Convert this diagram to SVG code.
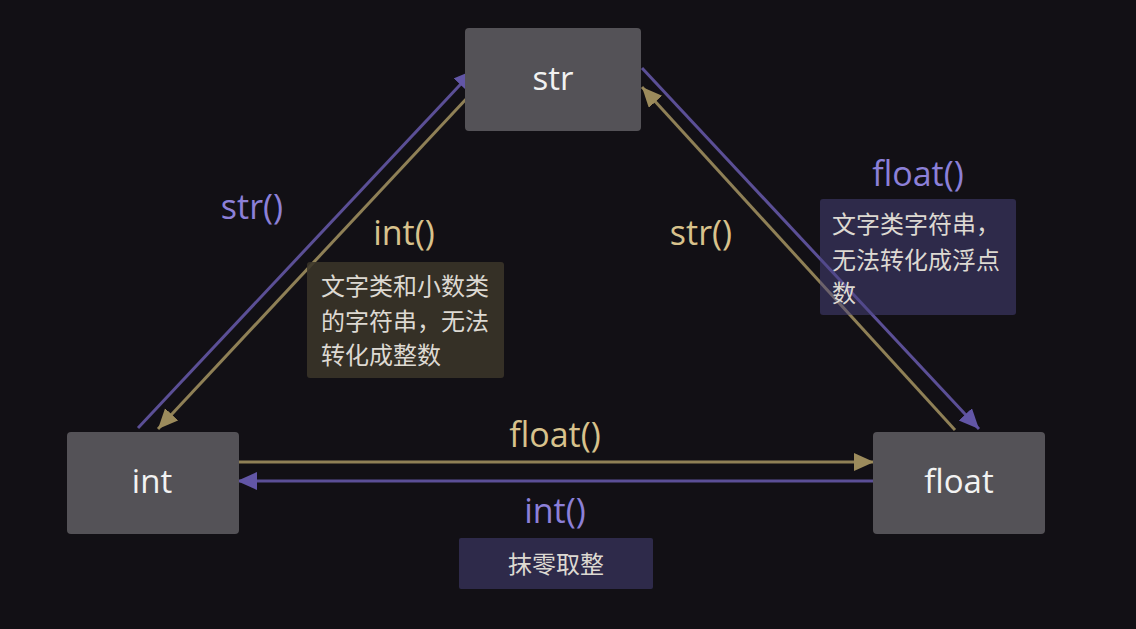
<svg xmlns="http://www.w3.org/2000/svg" width="1136" height="629" viewBox="0 0 1136 629">
<defs>
<style>
.node{fill:#545257;}
.nt{font-family:"Open Sans","Liberation Sans",sans-serif;font-size:33px;fill:#f2f2f2;text-anchor:middle;}
.lp{font-family:"Open Sans","Liberation Sans",sans-serif;font-size:34px;fill:#8c80d8;text-anchor:middle;}
.lg{font-family:"Open Sans","Liberation Sans",sans-serif;font-size:34px;fill:#d8c28c;text-anchor:middle;}
.cj{font-family:"Noto Sans CJK SC","Noto Sans",sans-serif;font-size:24px;fill:#ddd9d2;}
.lineP{stroke:#5b4f96;stroke-width:3;fill:none;}
.lineG{stroke:#8f8056;stroke-width:3;fill:none;}
</style>
<marker id="ap" markerUnits="userSpaceOnUse" markerWidth="22" markerHeight="20" refX="20" refY="9" orient="auto"><path d="M0,0 L20,9 L0,18 z" fill="#6256a6"/></marker>
<marker id="ag" markerUnits="userSpaceOnUse" markerWidth="22" markerHeight="20" refX="20" refY="9" orient="auto"><path d="M0,0 L20,9 L0,18 z" fill="#9c8b5c"/></marker>
</defs>
<rect width="1136" height="629" fill="#121015"/>
<g id="connectors">
<line class="lineP" x1="138" y1="428" x2="474" y2="70" marker-end="url(#ap)"/>
<line class="lineG" x1="468" y1="97" x2="158" y2="429" marker-end="url(#ag)"/>
<line class="lineP" x1="642" y1="68" x2="979" y2="429" marker-end="url(#ap)"/>
<line class="lineG" x1="955" y1="430" x2="642" y2="87" marker-end="url(#ag)"/>
<line class="lineG" x1="238" y1="462" x2="874" y2="462" marker-end="url(#ag)"/>
<line class="lineP" x1="873" y1="481" x2="237" y2="481" marker-end="url(#ap)"/>
</g>
<g id="node-str"><rect class="node" x="465" y="28" width="176" height="103" rx="4"/><text class="nt" x="553" y="90">str</text></g>
<g id="node-int"><rect class="node" x="67" y="432" width="172" height="102" rx="4"/><text class="nt" x="152" y="493">int</text></g>
<g id="node-float"><rect class="node" x="873" y="432" width="172" height="102" rx="4"/><text class="nt" x="959" y="493">float</text></g>
<g id="label-str-left"><text class="lp" x="252" y="219">str()</text></g>
<g id="label-int-diag"><text class="lg" x="404" y="245">int()</text></g>
<g id="note-int">
<rect x="307" y="262" width="197" height="116" rx="3" fill="#3a3429" fill-opacity="0.88"/>
<text class="cj" x="321" y="295">文字类和小数类</text>
<text class="cj" x="321" y="330">的字符串，无法</text>
<text class="cj" x="321" y="364">转化成整数</text>
</g>
<g id="label-str-right"><text class="lg" x="701" y="245">str()</text></g>
<g id="label-float-diag"><text class="lp" x="918" y="186">float()</text></g>
<g id="note-float">
<rect x="820" y="199" width="196" height="116" rx="3" fill="#4a447f" fill-opacity="0.5"/>
<text class="cj" x="832" y="233">文字类字符串，</text>
<text class="cj" x="832" y="269">无法转化成浮点</text>
<text class="cj" x="832" y="302">数</text>
</g>
<g id="label-float-h"><text class="lg" x="555" y="447">float()</text></g>
<g id="label-int-h"><text class="lp" x="555" y="523">int()</text></g>
<g id="note-trunc">
<rect x="459" y="538" width="194" height="51" rx="2" fill="#2e2a4a"/>
<text class="cj" x="556" y="573" text-anchor="middle">抹零取整</text>
</g>
</svg>
